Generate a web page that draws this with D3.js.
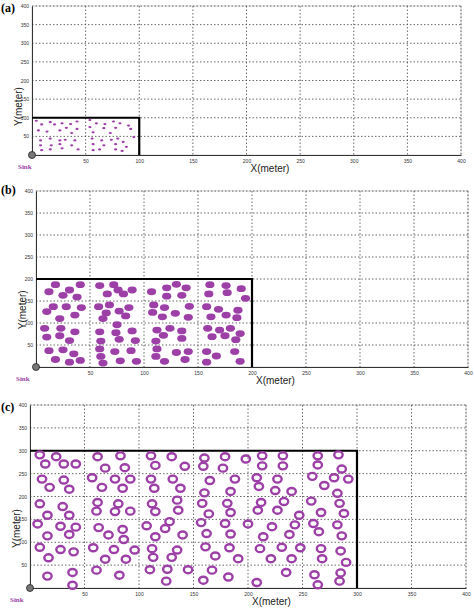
<!DOCTYPE html>
<html><head><meta charset="utf-8">
<script src="https://cdn.jsdelivr.net/npm/d3@7"></script>
<style>body{margin:0;background:#fff}svg{display:block}</style>
</head><body>
<svg id="chart" width="474" height="612"></svg>
<script>
// axis ticks (meters)
let ticks = [0, 50, 100, 150, 200, 250, 300, 350, 400]
let tickLabels = ['', '50', '100', '150', '200', '250', '300', '350', '400']
let fieldSizes = [100, 200, 300]
let panelLabels = ['(a)', '(b)', '(c)']

// sensor node positions [x, y]
let nodesA = [[4,92],[9,82],[17,88],[21,82],[28,85],[36,83],[42,90],[6,66],[14,63],[26,66],[32,73],[42,70],[37,59],
  [8,39],[17,44],[26,39],[31,41],[40,39],[8,26],[18,26],[26,29],[37,26],[9,13],[17,15],[28,18],[43,15],
  [54,94],[60,85],[68,83],[76,90],[82,85],[90,79],[54,75],[67,72],[78,73],[92,70],[57,61],[73,59],[95,48],
  [56,44],[65,39],[74,41],[80,44],[85,35],[57,29],[67,26],[78,29],[88,22],[57,13],[63,15],[78,15],[84,11]]
let nodesB = [[18,187],[41,187],[12,171],[25,163],[31,175],[38,159],[59,185],[72,187],[76,175],[66,166],[81,166],
  [89,175],[107,171],[130,188],[121,180],[139,180],[121,161],[135,163],[161,187],[176,185],[190,178],[160,166],
  [177,169],[194,156],[10,126],[16,137],[28,137],[42,135],[36,118],[22,110],[58,137],[68,141],[65,123],[77,127],
  [86,135],[83,116],[62,110],[109,141],[119,135],[108,124],[129,122],[117,114],[142,138],[141,113],[158,137],
  [169,131],[162,114],[176,118],[187,129],[186,112],[8,88],[23,88],[10,68],[22,71],[31,60],[36,80],[59,80],
  [75,96],[74,78],[89,82],[60,59],[77,63],[92,60],[112,84],[124,88],[135,82],[118,72],[111,59],[135,65],
  [159,88],[170,84],[180,88],[163,69],[175,71],[189,76],[185,62],[12,37],[25,39],[35,30],[18,17],[31,11],
  [41,15],[59,41],[73,35],[88,37],[60,24],[62,9],[78,14],[93,13],[112,41],[111,24],[119,13],[130,33],[141,35],
  [138,17],[158,35],[167,25],[158,11],[184,35],[189,13]]
let nodesC = [[9,291],[24,287],[14,271],[31,271],[42,271],[62,287],[83,289],[69,262],[87,263],[111,289],[130,287],
  [115,268],[142,266],[160,284],[179,287],[198,282],[159,266],[177,262],[213,289],[232,289],[213,267],[232,267],
  [264,289],[283,291],[264,269],[286,260],[11,238],[31,236],[18,220],[36,216],[57,241],[78,238],[92,238],[66,220],
  [85,218],[111,238],[131,238],[114,218],[138,218],[165,235],[188,238],[160,208],[184,211],[208,241],[227,238],
  [210,222],[225,213],[240,211],[259,244],[270,224],[279,241],[292,238],[282,207],[9,184],[30,178],[16,159],
  [36,159],[62,187],[81,184],[61,168],[78,167],[92,168],[112,184],[135,192],[115,167],[136,170],[158,185],
  [181,185],[164,162],[184,165],[212,187],[233,189],[209,170],[227,170],[247,159],[258,190],[267,165],[284,185],
  [288,163],[7,140],[28,135],[16,114],[36,117],[42,133],[63,132],[72,116],[85,128],[86,106],[107,136],[124,130],
  [128,145],[115,112],[140,116],[157,143],[162,119],[179,141],[184,118],[200,140],[214,112],[222,134],[238,117],
  [243,138],[260,141],[265,123],[282,138],[286,114],[9,89],[28,84],[40,79],[17,66],[58,88],[77,84],[96,83],
  [69,63],[88,63],[112,86],[135,83],[113,67],[130,67],[161,90],[170,70],[183,88],[191,64],[211,86],[221,64],
  [231,89],[240,64],[248,88],[267,86],[268,64],[285,81],[290,56],[16,26],[39,34],[39,6],[61,39],[82,28],
  [110,40],[126,41],[145,40],[125,15],[159,17],[167,39],[182,24],[208,12],[235,34],[261,29],[264,7],[285,33],[284,15]]

let allNodes = [nodesA, nodesB, nodesC]

const svg = d3.select('#chart')
const purple = '#9c3fa6'

let panels = [
  {left: 32, right: 461, top: 6, bottom: 155, label: 12, node: 'dot'},
  {left: 36, right: 468, top: 191, bottom: 367, label: 194, node: 'fill'},
  {left: 30, right: 466, top: 405, bottom: 588, label: 411, node: 'ring'}
]

panels.forEach((p, i) => {
  let x = d3.scaleLinear().domain([0, 400]).range([p.left, p.right])
  let y = d3.scaleLinear().domain([0, 400]).range([p.bottom, p.top])
  let g = svg.append('g')

  // frame
  g.append('rect').attr('x', p.left).attr('y', p.top)
    .attr('width', p.right - p.left).attr('height', p.bottom - p.top)
    .attr('fill', 'none').attr('stroke', '#bbb').attr('stroke-width', 0.6)

  // dotted grid
  ticks.slice(1).forEach(t => {
    g.append('line').attr('x1', x(t)).attr('x2', x(t)).attr('y1', p.top).attr('y2', p.bottom)
      .attr('stroke', '#444').attr('stroke-width', 0.8).attr('stroke-dasharray', '1.5,2')
    g.append('line').attr('x1', p.left).attr('x2', p.right).attr('y1', y(t)).attr('y2', y(t))
      .attr('stroke', '#444').attr('stroke-width', 0.8).attr('stroke-dasharray', '1.5,2')
  })

  // axes
  g.append('g').attr('transform', `translate(0,${p.bottom})`)
    .call(d3.axisBottom(x).tickValues(ticks).tickSize(0).tickPadding(4).tickFormat((d, k) => tickLabels[k]))
    .call(a => a.select('.domain').attr('stroke', '#333'))
    .selectAll('text').attr('font-size', 5).attr('font-family', 'Liberation Sans').attr('fill', '#333')
  g.append('g').attr('transform', `translate(${p.left},0)`)
    .call(d3.axisLeft(y).tickValues(ticks).tickSize(0).tickPadding(3).tickFormat((d, k) => tickLabels[k]))
    .call(a => a.select('.domain').attr('stroke', '#333'))
    .selectAll('text').attr('font-size', 5).attr('font-family', 'Liberation Sans').attr('fill', '#333')

  // field boundary
  let s = fieldSizes[i]
  g.append('path').attr('d', `M${x(0)},${y(s)} L${x(s)},${y(s)} L${x(s)},${y(0)}`)
    .attr('fill', 'none').attr('stroke', '#000').attr('stroke-width', 2.2)

  // nodes
  let nodes = g.selectAll('.node').data(allNodes[i]).join('ellipse')
    .attr('cx', d => x(d[0])).attr('cy', d => y(d[1]))
  if (p.node == 'dot') {
    nodes.attr('rx', 1.6).attr('ry', 1.1).attr('fill', purple)
  } else if (p.node == 'fill') {
    nodes.attr('rx', 4.6).attr('ry', 3.4).attr('fill', purple)
  } else {
    nodes.attr('rx', 4.2).attr('ry', 3.5).attr('fill', 'none').attr('stroke', purple).attr('stroke-width', 2.4)
  }

  // sink
  g.append('circle').attr('cx', x(0)).attr('cy', y(0)).attr('r', 3.5)
    .attr('fill', '#777').attr('stroke', '#222').attr('stroke-width', 0.8)
  g.append('text').attr('x', i == 0 ? x(0) - 14 : x(0) - 20).attr('y', p.bottom + 14)
    .attr('font-size', 7).attr('font-weight', 'bold').attr('font-family', 'Liberation Serif')
    .attr('fill', purple).text('Sink')

  // axis titles
  g.append('text').attr('x', x(200) + 4).attr('y', p.bottom + 17)
    .attr('font-size', 10).attr('font-family', 'Liberation Sans').attr('fill', '#222').text('X(meter)')
  g.append('text').attr('transform', `translate(${p.left - 10},${y(130)}) rotate(-90)`)
    .attr('text-anchor', 'middle')
    .attr('font-size', 10).attr('font-family', 'Liberation Sans').attr('fill', '#222').text('Y(meter)')

  svg.append('text').attr('x', 1).attr('y', p.label)
    .attr('font-size', 12).attr('font-weight', 'bold').attr('font-family', 'Liberation Serif')
    .text(panelLabels[i])
})
</script>
</body></html>
